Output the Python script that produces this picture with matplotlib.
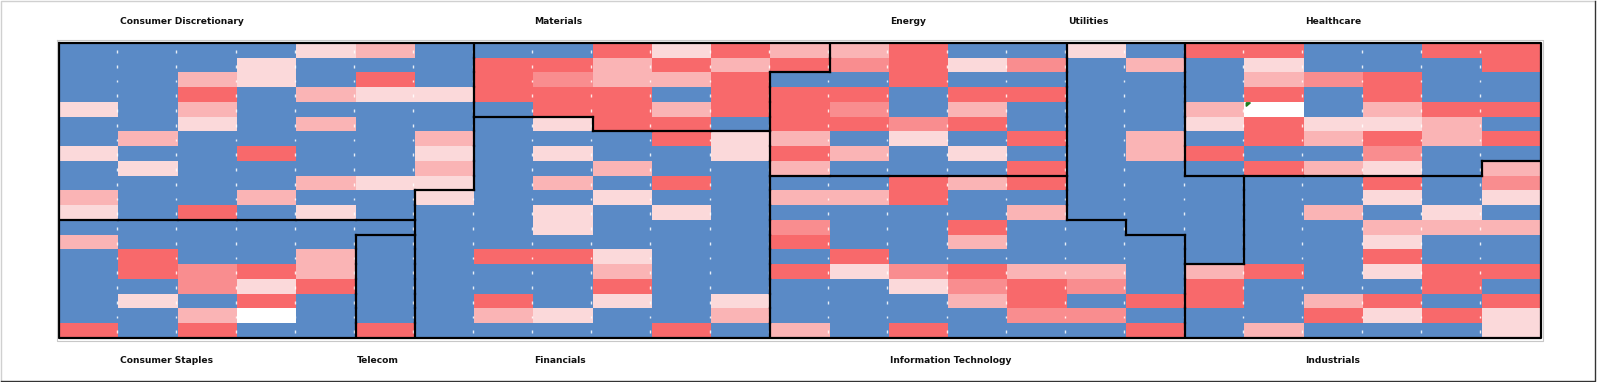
import matplotlib
matplotlib.use("Agg")
import matplotlib.pyplot as plt
import numpy as np
from matplotlib.colors import ListedColormap
from matplotlib.collections import LineCollection
from matplotlib.lines import Line2D
from matplotlib.patches import Polygon

# shade of each cell, row by row
# B blue, R red, M mid red, P pink, L light pink, W white
cell_rows = [
    "BBBBLPBBBRLRPPRBBLBRRBBRR",
    "BBBLBBBRRPRPRMRLMBPBLBBBR",
    "BBPLBRBRMPPRBBRBBBBBPMRBB",
    "BBRBPLLRRRBRRRBRRBBBRBRBB",
    "LBPBBBBBRRPRRMBPBBBPWBPRR",
    "BBLBPBBBLRRBRRMRBBBLRLLPB",
    "BPBBBBPBBBRLPBLBRBPBRPRPR",
    "LBBRBBLBLBBLRPBLBBPRBBMBB",
    "BLBBBBPBBPBBPBBBRBBBRPLBP",
    "BBBBPLLBPBRBBBRPRBBBBBRBM",
    "PBBPBBLBBLBBPPRBBBBBBBLBL",
    "LBRBLBBBLBLBBBBBPBBBBPBLB",
    "BBBBBBBBLBBBMBBRBBBBBBPPP",
    "PBBBBBBBBBBBRBBPBBBBBBLBB",
    "BRBBPBBRRLBBBRBBBBBBBBRBB",
    "BRMRPBBBBPBBRLMRPPBPRBLRR",
    "BBMLRBBBBRBBBBLMRMBRBBBRB",
    "BLBRBBBRBLBLBBBPRBRRBPRBR",
    "BBPWBBBPLBBPBBBBMMBBBRLRL",
    "RBRBBRBBBBRBPBRBBBRBPBBBL",
]

# sector of each cell
sector_rows = [
    "DDDDDDDAAAAAAEEEEUUHHHHHH",
    "DDDDDDDAAAAAAEEEEUUHHHHHH",
    "DDDDDDDAAAAAEEEEEUUHHHHHH",
    "DDDDDDDAAAAAEEEEEUUHHHHHH",
    "DDDDDDDAAAAAEEEEEUUHHHHHH",
    "DDDDDDDFFAAAEEEEEUUHHHHHH",
    "DDDDDDDFFFFFEEEEEUUHHHHHH",
    "DDDDDDDFFFFFEEEEEUUHHHHHH",
    "DDDDDDDFFFFFEEEEEUUHHHHHN",
    "DDDDDDDFFFFFIIIIIUUUNNNNN",
    "DDDDDDFFFFFFIIIIIUUUNNNNN",
    "DDDDDDFFFFFFIIIIIUUUNNNNN",
    "SSSSSSFFFFFFIIIIIIUUNNNNN",
    "SSSSSTFFFFFFIIIIIIIUNNNNN",
    "SSSSSTFFFFFFIIIIIIIUNNNNN",
    "SSSSSTFFFFFFIIIIIIINNNNNN",
    "SSSSSTFFFFFFIIIIIIINNNNNN",
    "SSSSSTFFFFFFIIIIIIINNNNNN",
    "SSSSSTFFFFFFIIIIIIINNNNNN",
    "SSSSSTFFFFFFIIIIIIINNNNNN",
]

sector_names = {
    "D": "Consumer Discretionary",
    "A": "Materials",
    "E": "Energy",
    "U": "Utilities",
    "H": "Healthcare",
    "S": "Consumer Staples",
    "T": "Telecom",
    "F": "Financials",
    "I": "Information Technology",
    "N": "Industrials",
}

# cells carrying the little green flag (row, column)
flagged = [(4, 20)]

shades = "BRMPLW"
shade_colors = ["#5A8AC6", "#F8696B", "#F98D8F", "#FAB4B5", "#FBD9DA", "#FFFFFF"]

# label placement: column where the text starts, above or below the grid
label_spots = {
    "D": (1, "top"), "A": (8, "top"), "E": (14, "top"), "U": (17, "top"),
    "H": (21, "top"), "S": (1, "bottom"), "T": (5, "bottom"),
    "F": (8, "bottom"), "I": (14, "bottom"), "N": (21, "bottom"),
}

W, H = 1600, 382
fig = plt.figure(figsize=(W / 100, H / 100), dpi=100)
fig.patch.set_facecolor("white")

gx0, gx1, gy0, gy1 = 59.2, 1540.8, 42.9, 338.0
ax = fig.add_axes([gx0 / W, 1 - gy1 / H, (gx1 - gx0) / W, (gy1 - gy0) / H])

codes = np.array([[shades.index(ch) for ch in row] for row in cell_rows])
nrows, ncols = codes.shape
ax.pcolormesh(np.arange(ncols + 1), np.arange(nrows + 1), codes,
              cmap=ListedColormap(shade_colors), vmin=-0.5, vmax=len(shades) - 0.5)
ax.set_xlim(0, ncols)
ax.set_ylim(nrows, 0)
ax.set_axis_off()

# small white dashes on column boundaries
ticks = []
for r in range(nrows):
    for c in range(1, ncols):
        ticks.append([(c - 0.025, r + 0.49), (c - 0.025, r + 0.67)])
ax.add_collection(LineCollection(ticks, colors="white", linewidths=1.0,
                                 alpha=0.85, zorder=2))

# flag in the corner of flagged cells
for r, c in flagged:
    ax.add_patch(Polygon([(c + 0.03, r + 0.06), (c + 0.1, r + 0.06), (c + 0.03, r + 0.3)],
                         closed=True, color="#1E7B1E", zorder=3))

# sector borders
sec = np.array([list(row) for row in sector_rows])
segs = []
for r in range(nrows):
    for c in range(ncols):
        if c < ncols - 1 and sec[r, c] != sec[r, c + 1]:
            segs.append([(c + 1, r), (c + 1, r + 1)])
        if r < nrows - 1 and sec[r, c] != sec[r + 1, c]:
            segs.append([(c, r + 1), (c + 1, r + 1)])
ax.add_collection(LineCollection(segs, colors="black", linewidths=1.6,
                                 capstyle="projecting", zorder=4))
ax.plot([0, ncols, ncols, 0, 0], [0, 0, nrows, nrows, 0], color="black",
        lw=1.6, solid_capstyle="projecting", clip_on=False, zorder=5)

# thin grey frame just outside the grid
pad = 2.5
fig.add_artist(Line2D([(gx0 - pad) / W, (gx1 + pad) / W, (gx1 + pad) / W, (gx0 - pad) / W, (gx0 - pad) / W],
                      [1 - (gy0 - pad) / H, 1 - (gy0 - pad) / H, 1 - (gy1 + pad) / H, 1 - (gy1 + pad) / H, 1 - (gy0 - pad) / H],
                      color="#C8C8C8", lw=0.8))

for key, (col, side) in label_spots.items():
    y = -1.46 if side == "top" else nrows + 1.53
    ax.text(col + 0.02, y, sector_names[key], ha="left", va="center",
            fontsize=6.6, fontweight="bold", color="#111111", clip_on=False)

# outer frame of the picture
fig.add_artist(Line2D([0.5 / W, 0.5 / W, 1594.5 / W], [0, 1 - 0.5 / H, 1 - 0.5 / H],
                      color="#D0D0D0", lw=1.0))
fig.add_artist(Line2D([0.5 / W, 1594.5 / W, 1594.5 / W], [0.8 / H, 0.8 / H, 1 - 0.5 / H],
                      color="#333333", lw=1.0))

fig.savefig("out.png", dpi=100, facecolor="white")
